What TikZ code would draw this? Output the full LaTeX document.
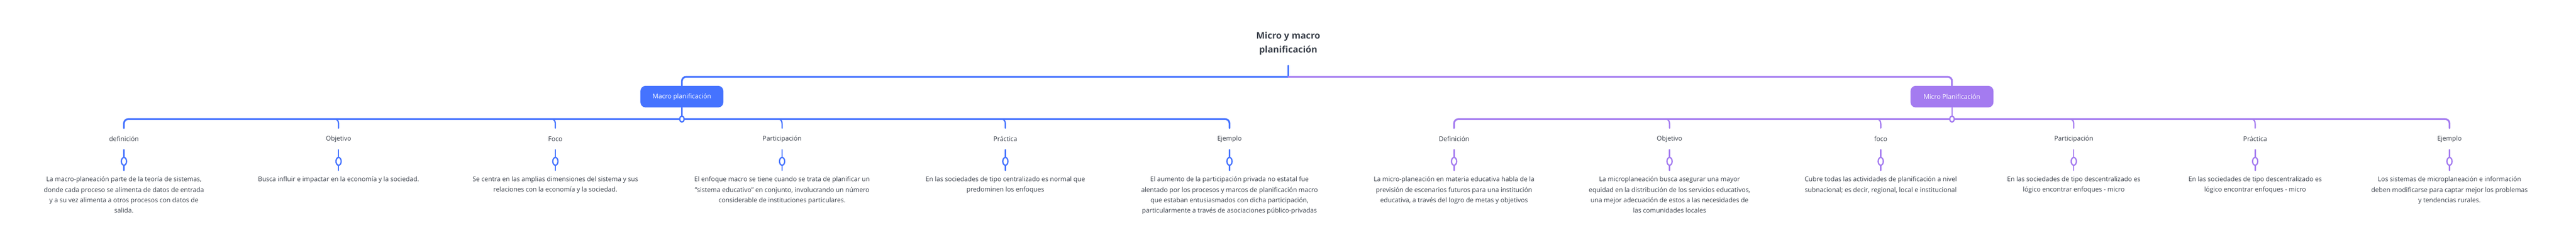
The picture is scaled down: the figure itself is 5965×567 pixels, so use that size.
\documentclass[tikz,border=0pt]{standalone}
\usepackage{fontspec}
\setmainfont{Open Sans}
\usetikzlibrary{shapes.geometric}
\definecolor{macroblue}{HTML}{4573FF}
\definecolor{micropurple}{HTML}{A47BF0}
\definecolor{ink}{HTML}{3A404A}
\begin{document}
\begin{tikzpicture}[x=1pt,y=-1pt,line cap=round]
\tikzstyle{topic} = [font=\bfseries\fontsize{21}{32}\selectfont, text=ink, align=center]
\tikzstyle{hub} = [rectangle, rounded corners=12pt, minimum width=192pt,
minimum height=50pt, text=white, font=\fontsize{15}{18}\selectfont]
\tikzstyle{lbl} = [text=ink, font=\fontsize{15}{18}\selectfont]
\tikzstyle{desc} = [anchor=north, text=ink, align=center, font=\fontsize{15}{24}\selectfont]
\tikzstyle{knob} = [ellipse, line width=3pt, fill=white, minimum width=12pt,
minimum height=18pt, inner sep=0pt]
\tikzstyle{bar} = [draw, line width=4pt]
\tikzstyle{stem} = [draw, line width=3pt]
\useasboundingbox (0,0) rectangle (5965,567);
% title and the two hubs
\node [topic] (topic) at (2983,101) {Micro y macro\\planificación};
\node [hub, fill=macroblue] (macro) at (1579,224) {Macro planificación};
\node [hub, fill=micropurple] (micro) at (4520,224) {Micro Planificación};
\coordinate (stem) at (2983,152);
\coordinate (top) at (2983,178);
\coordinate (macrojoint) at (1579,276);
\coordinate (microjoint) at (4520,276);
\path [stem, macroblue] (stem) -- (top);
\path [bar, macroblue, rounded corners=10pt] (top) -| (macro.north);
\path [bar, micropurple, rounded corners=10pt] (top) -| (micro.north);
\path [stem, macroblue] (macro.south) -- (macrojoint);
\path [stem, micropurple] (micro.south) -- (microjoint);
% macro branches
\foreach \x/\n/\l/\t in {
287/mdef/{definición}/{La macro-planeación parte de la teoría de sistemas,\\donde cada proceso se alimenta de datos de entrada\\y a su vez alimenta a otros procesos con datos de\\salida.},
784/mobj/{Objetivo}/{Busca influir e impactar en la economía y la sociedad.},
1286/mfoco/{Foco}/{Se centra en las amplias dimensiones del sistema y sus\\relaciones con la economía y la sociedad.},
1811/mpart/{Participación}/{El enfoque macro se tiene cuando se trata de planificar un\\"sistema educativo" en conjunto, involucrando un número\\considerable de instituciones particulares.},
2328/mprac/{Práctica}/{En las sociedades de tipo centralizado es normal que\\predominen los enfoques},
2847/mej/{Ejemplo}/{El aumento de la participación privada no estatal fue\\alentado por los procesos y marcos de planificación macro\\que estaban entusiasmados con dicha participación,\\particularmente a través de asociaciones público-privadas}}
{
\coordinate (\n) at (\x,297);
\node [lbl] (\n-l) at (\x,322) {\l};
\coordinate (\n-a) at (\x,347);
\coordinate (\n-b) at (\x,395);
\path [stem, macroblue] (\n-a) -- (\n-b);
\node [knob, draw=macroblue] (\n-k) at (\x,374) {};
\node [desc] (\n-d) at (\x,406) {\t};
}
% micro branches
\foreach \x/\n/\l/\t in {
3367/udef/{Definición}/{La micro-planeación en materia educativa habla de la\\previsión de escenarios futuros para una institución\\educativa, a través del logro de metas y objetivos},
3866/uobj/{Objetivo}/{La microplaneación busca asegurar una mayor\\equidad en la distribución de los servicios educativos,\\una mejor adecuación de estos a las necesidades de\\las comunidades locales},
4355/ufoco/{foco}/{Cubre todas las actividades de planificación a nivel\\subnacional; es decir, regional, local e institucional},
4802/upart/{Participación}/{En las sociedades de tipo descentralizado es\\lógico encontrar enfoques - micro},
5222/uprac/{Práctica}/{En las sociedades de tipo descentralizado es\\lógico encontrar enfoques - micro},
5672/uej/{Ejemplo}/{Los sistemas de microplaneación e información\\deben modificarse para captar mejor los problemas\\y tendencias rurales.}}
{
\coordinate (\n) at (\x,297);
\node [lbl] (\n-l) at (\x,322) {\l};
\coordinate (\n-a) at (\x,347);
\coordinate (\n-b) at (\x,395);
\path [stem, micropurple] (\n-a) -- (\n-b);
\node [knob, draw=micropurple] (\n-k) at (\x,374) {};
\node [desc] (\n-d) at (\x,406) {\t};
}
% lower bars
\path [bar, macroblue, rounded corners=10pt] (mdef) |- (macrojoint) -| (mej);
\path [bar, micropurple, rounded corners=10pt] (udef) |- (microjoint) -| (uej);
\foreach \n in {mobj,mfoco,mpart,mprac}
\path [stem, macroblue] ([xshift=-8pt]\n |- macrojoint) to[out=0,in=90] ([yshift=10pt]\n) -- (\n);
\foreach \n in {uobj,ufoco,upart,uprac}
\path [stem, micropurple] ([xshift=-8pt]\n |- microjoint) to[out=0,in=90] ([yshift=10pt]\n) -- (\n);
\node [knob, draw=macroblue, minimum width=10pt, minimum height=14pt] (mknob) at (macrojoint) {};
\node [knob, draw=micropurple, minimum width=10pt, minimum height=14pt] (uknob) at (microjoint) {};
\end{tikzpicture}
\end{document}
